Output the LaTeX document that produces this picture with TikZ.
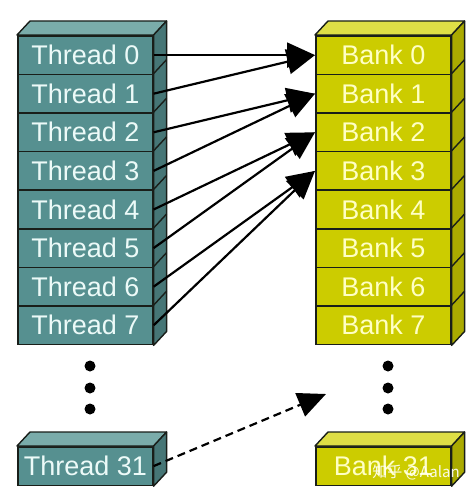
\documentclass[tikz,border=0pt]{standalone}
\usepackage{fontspec}
\setmainfont{Liberation Sans}
\newfontfamily\cjk{Noto Sans CJK SC}
\usetikzlibrary{arrows.meta,calc}
\definecolor{tfront}{RGB}{86,144,144}
\definecolor{ttop}{RGB}{122,172,170}
\definecolor{tside}{RGB}{70,118,118}
\definecolor{ttext}{RGB}{236,250,248}
\definecolor{bfront}{RGB}{204,204,0}
\definecolor{btop}{RGB}{222,222,70}
\definecolor{bside}{RGB}{170,170,0}
\definecolor{btext}{RGB}{255,255,196}
\definecolor{edge}{RGB}{25,30,25}
\begin{document}
\begin{tikzpicture}[x=1pt,y=-1pt,
  cell/.style={draw=edge, line width=1.6pt, minimum width=135pt, minimum height=38.6pt,
    inner sep=0pt, anchor=north west, font=\fontsize{27}{30}\selectfont},
  tcell/.style={cell, fill=tfront, text=ttext},
  bcell/.style={cell, fill=bfront, text=btext},
  face/.style={draw=edge, line width=1.4pt, line join=round},
  arr/.style={draw=black, line width=2.2pt, -{Triangle[length=28pt,width=25pt]}},
  dot/.style={fill=black}
]
\useasboundingbox (0,0) rectangle (472,495);
% thread stack
\foreach \k in {0,...,7} {
  \node[tcell] (t\k) at (17,{35+38.6*\k}) {Thread \k};
}
\node[tcell] (t31) at (17,446) {Thread 31};
% bank stack
\foreach \k in {0,...,7} {
  \node[bcell] (b\k) at (315,{35+38.6*\k}) {Bank \k};
}
\node[bcell] (b31) at (315,446) {Bank 31};
% 3D faces
\foreach \s/\top/\side/\a/\z in {t/ttop/tside/0/7, b/btop/bside/0/7, t/ttop/tside/31/31, b/btop/bside/31/31} {
  \filldraw[face, fill=\top] (\s\a.north west) -- ++(13,-14) -- ($(\s\a.north east)+(13,-14)$) -- (\s\a.north east) -- cycle;
  \filldraw[face, fill=\side] (\s\a.north east) -- ++(13,-14) -- ($(\s\z.south east)+(13,-14)$) -- (\s\z.south east) -- cycle;
}
\foreach \s in {t,b} {
  \foreach \k in {1,...,7} {
    \draw[face] (\s\k.north east) -- ++(13,-14);
  }
}
% arrows
\draw[arr] (t0.east) -- (b0.west);
\draw[arr] (t1.east) -- (b0.west);
\draw[arr] (t2.east) -- (b1.west);
\draw[arr] (t3.east) -- (b1.west);
\draw[arr] (t4.east) -- (b2.west);
\draw[arr] (t5.east) -- (b2.west);
\draw[arr] (t6.east) -- (b3.west);
\draw[arr] (t7.east) -- (b3.west);
\coordinate (dend) at (326,394);
\draw[arr, dash pattern=on 8pt off 5pt] (t31.east) -- (dend);
% ellipsis dots
\foreach \yy in {366,388,409} {
  \fill[dot] (90,\yy) circle (5.5);
  \fill[dot] (388,\yy) circle (5.5);
}
% watermark
\node[text=white, opacity=0.9, font=\cjk\fontsize{15}{17}\selectfont] (wm) at (416,472) {知乎 @Aalan};
\end{tikzpicture}
\end{document}
